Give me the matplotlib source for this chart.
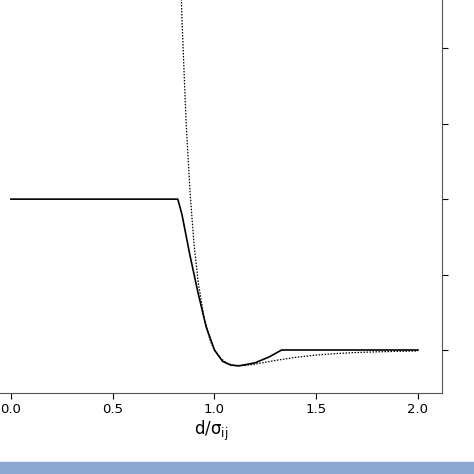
import matplotlib
matplotlib.use("Agg")
import matplotlib.pyplot as plt
from matplotlib.patches import Rectangle

solid_x = [0.0, 0.82, 0.84, 0.88, 0.92, 0.96, 1.0, 1.04, 1.08, 1.12, 1.2, 1.27, 1.33, 2.0]
solid_y = [2.0, 2.0, 1.8, 1.25, 0.75, 0.3, 0.0, -0.15, -0.2, -0.21, -0.17, -0.09, 0.0, 0.0]

dot_x = [0.82, 0.84, 0.86, 0.88, 0.90, 0.92, 0.95, 0.98, 1.0, 1.03, 1.06, 1.1, 1.15, 1.2,
         1.3, 1.4, 1.5, 1.6, 1.7, 1.8, 1.9, 2.0]
dot_y = [6.3, 4.41, 3.06, 2.09, 1.39, 0.90, 0.41, 0.12, 0.0, -0.11, -0.175, -0.207, -0.206,
         -0.187, -0.138, -0.097, -0.067, -0.047, -0.033, -0.024, -0.018, -0.013]

xticks = [0.0, 0.5, 1.0, 1.5, 2.0]
xticklabels = ["0.0", "0.5", "1.0", "1.5", "2.0"]
yticks = [0, 1, 2, 3, 4]

fig = plt.figure(figsize=(4.74, 4.74), dpi=100)
W = 474.0
ax = fig.add_axes([-20.0 / W, (474 - 393) / W, (442 + 20.0) / W, 393 / W])
ax.plot(solid_x, solid_y, color="black", lw=1.2)
ax.plot(dot_x, dot_y, color="black", lw=0.9, ls=(0, (1.2, 1.2)))
ax.set_xlim(-0.152, 2.118)
ax.set_ylim(-0.57, 4.64)
ax.set_xticks(xticks)
ax.set_xticklabels(xticklabels, fontsize=9.5)
ax.set_yticks(yticks)
ax.yaxis.tick_right()
ax.tick_params(axis="y", labelright=False, direction="out", length=4)
ax.tick_params(axis="x", direction="out", length=4)
ax.spines["top"].set_visible(False)
ax.spines["left"].set_visible(False)
for s in ["bottom", "right"]:
    ax.spines[s].set_color("#555555")
ax.set_xlabel(r"d/$\mathregular{\sigma_{ij}}$", fontsize=12, labelpad=2)

fig.patches.append(Rectangle((0, 0), 1, 12 / W, transform=fig.transFigure,
                             color="#8ba6d1", zorder=-1))
fig.savefig("out.png", dpi=100)
